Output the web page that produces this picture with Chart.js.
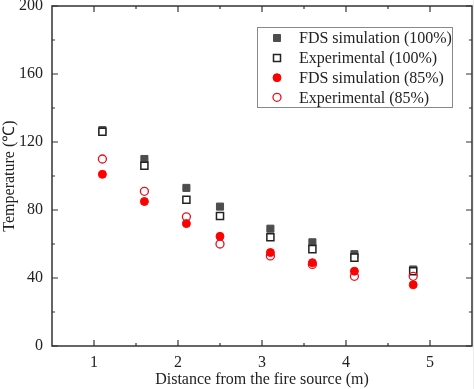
<!DOCTYPE html>
<html>
<head>
<meta charset="utf-8">
<script src="https://cdn.jsdelivr.net/npm/chart.js@4/dist/chart.umd.min.js"></script>
<style>
html,body{margin:0;padding:0;background:#fff;overflow:hidden;}
#wrap{width:474px;height:389px;position:relative;}
</style>
</head>
<body>
<div id="wrap"><canvas id="c" width="474" height="389"></canvas></div>
<script>
const distances = [1.1, 1.6, 2.1, 2.5, 3.1, 3.6, 4.1, 4.8];
const fds100 = [127, 110, 93, 82, 69, 61, 54, 45];
const exp100 = [126, 106, 86, 76.5, 64, 57, 52, 44];
const fds85 = [101, 85, 72, 64.5, 55, 49, 44, 36];
const exp85 = [110, 91, 76, 60, 53, 48, 41, 41];
const xTicks = [1, 2, 3, 4, 5];
const xMinor = [1.5, 2.5, 3.5, 4.5];
const yTicks = [0, 40, 80, 120, 160, 200];
const yMinor = [20, 60, 100, 140, 180];
const seriesNames = ['FDS simulation (100%)', 'Experimental (100%)', 'FDS simulation (85%)', 'Experimental (85%)'];

const FONT = "'Liberation Serif', 'Times New Roman', serif";
const pts = arr => distances.map((d, i) => ({x: d, y: arr[i]}));

const frameTicks = {
  id: 'frameTicks',
  afterDatasetsDraw(chart) {
    const {ctx, chartArea: a, scales: {x, y}} = chart;
    ctx.save();
    ctx.fillStyle = '#ececec';
    ctx.fillRect(a.right + 1, 0, chart.width - a.right, chart.height);
    ctx.strokeStyle = '#333';
    ctx.lineWidth = 1.5;
    ctx.strokeRect(a.left, a.top, a.right - a.left, a.bottom - a.top);
    ctx.lineWidth = 1.2;
    ctx.beginPath();
    const tx = (v, len) => {
      const px = x.getPixelForValue(v);
      ctx.moveTo(px, a.bottom); ctx.lineTo(px, a.bottom - len);
      ctx.moveTo(px, a.top); ctx.lineTo(px, a.top + len);
    };
    const ty = (v, len) => {
      const py = y.getPixelForValue(v);
      ctx.moveTo(a.left, py); ctx.lineTo(a.left + len, py);
      ctx.moveTo(a.right, py); ctx.lineTo(a.right - len, py);
    };
    xTicks.forEach(v => tx(v, 6));
    xMinor.forEach(v => tx(v, 3));
    yTicks.forEach(v => ty(v, 6));
    yMinor.forEach(v => ty(v, 3));
    ctx.stroke();

    // legend
    const lx = 257, ly = 27, lw = 195, lh = 80;
    ctx.fillStyle = '#fff';
    ctx.fillRect(lx, ly, lw, lh);
    ctx.strokeStyle = '#888';
    ctx.lineWidth = 1;
    ctx.strokeRect(lx + 0.5, ly + 0.5, lw, lh);
    const rows = [38, 58, 77.7, 97.3];
    chart.data.datasets.forEach((ds, i) => {
      const cy = rows[i];
      const mx = 277;
      ctx.beginPath();
      if (ds.pointStyle === 'rect') {
        const s = 7;
        ctx.rect(mx - s / 2, cy - s / 2, s, s);
      } else {
        ctx.arc(mx, cy, 4, 0, Math.PI * 2);
      }
      ctx.fillStyle = ds.pointBackgroundColor;
      ctx.fill();
      ctx.lineWidth = ds.pointBorderWidth;
      ctx.strokeStyle = ds.pointBorderColor;
      ctx.stroke();
      ctx.fillStyle = '#222';
      ctx.font = '16px ' + FONT;
      ctx.textBaseline = 'middle';
      ctx.textAlign = 'left';
      ctx.fillText(ds.label, 299, cy + 1);
    });
    ctx.restore();
  }
};

new Chart(document.getElementById('c'), {
  type: 'scatter',
  data: {
    datasets: [
      {label: seriesNames[0], data: pts(fds100), pointStyle: 'rect', pointRadius: 5, pointBackgroundColor: '#4d4d4d', pointBorderColor: '#4d4d4d', pointBorderWidth: 1, order: 3},
      {label: seriesNames[1], data: pts(exp100), pointStyle: 'rect', pointRadius: 5, pointBackgroundColor: '#ffffff', pointBorderColor: '#222222', pointBorderWidth: 1.5, order: 2},
      {label: seriesNames[2], data: pts(fds85), pointStyle: 'circle', pointRadius: 4, pointBackgroundColor: '#ff0000', pointBorderColor: '#ff0000', pointBorderWidth: 1, order: 1},
      {label: seriesNames[3], data: pts(exp85), pointStyle: 'circle', pointRadius: 4, pointBackgroundColor: 'rgba(255,255,255,0)', pointBorderColor: '#e8101a', pointBorderWidth: 1.3, order: 0}
    ]
  },
  options: {
    responsive: false,
    animation: false,
    layout: {autoPadding: false, padding: {top: 6, right: 2, left: 0, bottom: 0}},
    plugins: {legend: {display: false}, tooltip: {enabled: false}},
    scales: {
      x: {
        type: 'linear', min: 0.5, max: 5.5,
        afterBuildTicks: s => { s.ticks = xTicks.map(v => ({value: v})); },
        afterFit: s => { s.height = 43; s.paddingLeft = 0; s.paddingRight = 0; },
        grid: {display: false, drawTicks: false},
        border: {display: false},
        ticks: {padding: 7, color: '#222', font: {family: FONT, size: 16}},
        title: {display: true, text: 'Distance from the fire source (m)', color: '#222', font: {family: FONT, size: 16}, padding: {top: 0, bottom: 0}}
      },
      y: {
        type: 'linear', min: 0, max: 200,
        afterBuildTicks: s => { s.ticks = yTicks.map(v => ({value: v})); },
        afterFit: s => { s.width = 52; s.paddingTop = 0; s.paddingBottom = 0; },
        grid: {display: false, drawTicks: false},
        border: {display: false},
        ticks: {padding: 9, color: '#222', font: {family: FONT, size: 16}},
        title: {display: true, text: 'Temperature (℃)', color: '#222', font: {family: FONT, size: 16}, padding: {top: 0, bottom: 0}}
      }
    }
  },
  plugins: [frameTicks]
});
</script>
</body>
</html>
